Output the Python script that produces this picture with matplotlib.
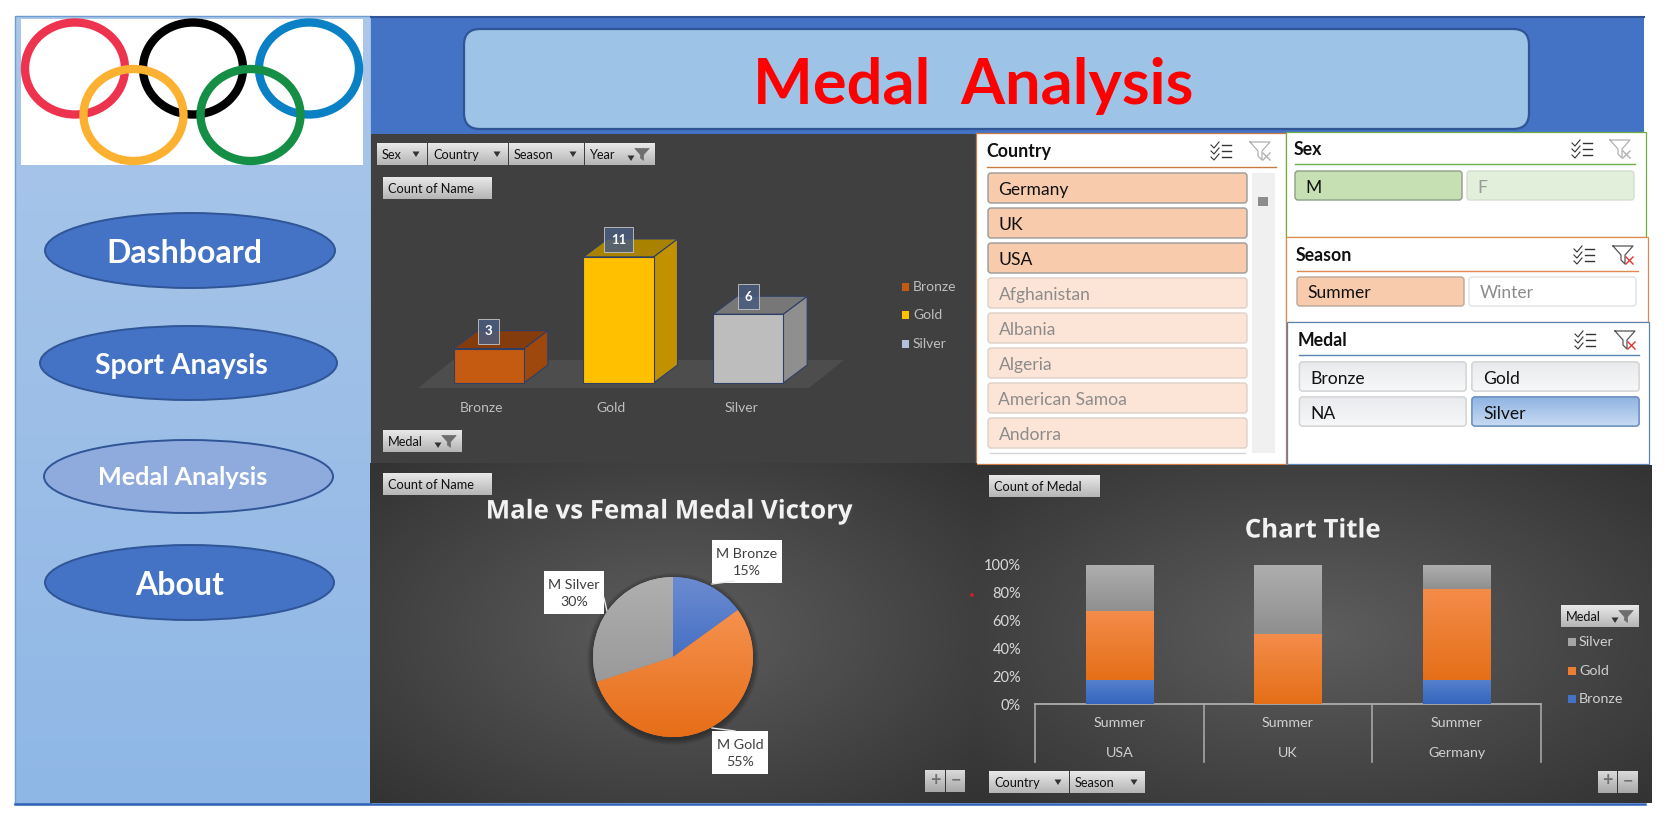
import numpy as np
import matplotlib
matplotlib.use("Agg")
import matplotlib.pyplot as plt
import matplotlib.patheffects as pe
from matplotlib.colors import LinearSegmentedColormap, to_rgb
from matplotlib.patches import Rectangle, Ellipse, Polygon, FancyBboxPatch

plt.rcParams["font.family"] = ["Lato", "DejaVu Sans"]

W, H = 1667, 823

# data
medals = ["Bronze", "Gold", "Silver"]
medal_counts = [3, 11, 6]

pie_labels = ["M Bronze", "M Gold", "M Silver"]
pie_values = [15, 55, 30]

countries = ["USA", "UK", "Germany"]
seasons = ["Summer", "Summer", "Summer"]
bronze_pct = [17, 0, 17]
gold_pct = [50, 50, 66]
silver_pct = [33, 50, 17]
pct_ticks = [0, 20, 40, 60, 80, 100]

country_items = ["Germany", "UK", "USA", "Afghanistan", "Albania", "Algeria",
                 "American Samoa", "Andorra"]
nav_items = ["Dashboard", "Sport Anaysis", "Medal Analysis", "About"]

fig = plt.figure(figsize=(W / 100, H / 100), dpi=100, facecolor="white")
canvas = fig.add_axes([0, 0, 1, 1])
canvas.set_xlim(0, W)
canvas.set_ylim(H, 0)
canvas.axis("off")
canvas.set_autoscale_on(False)


def px_axes(x0, y0, x1, y1):
    ax = fig.add_axes([x0 / W, 1 - y1 / H, (x1 - x0) / W, (y1 - y0) / H])
    ax.patch.set_alpha(0)
    return ax


def grad(ax, x0, y0, x1, y1, top, bottom, clip=None, zorder=1):
    cmap = LinearSegmentedColormap.from_list("g", [top, bottom])
    im = ax.imshow(np.linspace(0, 1, 64).reshape(-1, 1), cmap=cmap, aspect="auto",
                   extent=(x0, x1, y1, y0), origin="upper", zorder=zorder)
    if clip is not None:
        im.set_clip_path(clip)
    return im


def radial_panel(x0, y0, x1, y1):
    xx, yy = np.meshgrid(np.linspace(-1, 1, 200), np.linspace(-1, 1, 120))
    r = np.clip(np.sqrt(xx ** 2 + yy ** 2) / 1.4, 0, 1)
    c0, c1 = np.array(to_rgb("#5E5E5E")), np.array(to_rgb("#333333"))
    img = c0 + (c1 - c0) * r[..., None]
    canvas.imshow(img, aspect="auto", extent=(x0, x1, y1, y0), zorder=1)


def rrect(x0, y0, x1, y1, fc, ec, lw=1.0, r=3):
    p = FancyBboxPatch((x0, y0), x1 - x0, y1 - y0, boxstyle=f"round,pad=0,rounding_size={r}",
                       fc=fc, ec=ec, lw=lw, zorder=1)
    canvas.add_patch(p)
    return p


def funnel(x, y, color, s=1.0):
    pts = [(x - 9 * s, y - 7 * s), (x + 9 * s, y - 7 * s), (x + 2 * s, y + 1 * s),
           (x + 2 * s, y + 8 * s), (x - 2 * s, y + 5 * s), (x - 2 * s, y + 1 * s)]
    canvas.add_patch(Polygon(pts, fc=color, ec=color, lw=0.5, zorder=1))


def arrow(x, y, color="#333333"):
    canvas.add_patch(Polygon([(x - 3.5, y - 2.5), (x + 3.5, y - 2.5), (x, y + 3)], fc=color, ec="none", zorder=1))


def button(x0, y0, x1, y1, label, kind=None):
    grad(canvas, x0, y0, x1, y1, "#E9E9E9", "#B5B5B5")
    canvas.text(x0 + 5, (y0 + y1) / 2 + 1, label, fontsize=9.2, color="#111111", va="center")
    if kind == "arrow":
        arrow(x1 - 11, (y0 + y1) / 2)
    elif kind == "filter":
        funnel(x1 - 13, (y0 + y1) / 2, "#6E6E6E", 0.8)
        arrow(x1 - 24, (y0 + y1) / 2 + 4)


def slicer_icons(x_check, x_filter, y, active):
    for k in range(3):
        yy = y - 6 + k * 6
        canvas.plot([x_check - 10, x_check - 7, x_check - 2], [yy, yy + 3, yy - 3], color="#333333", lw=0.8)
        canvas.plot([x_check + 1, x_check + 10], [yy, yy], color="#333333", lw=1.0)
    fc = "#555555" if active else "#B0B0B0"
    xs = [x_filter - 10, x_filter + 10, x_filter + 2, x_filter + 2, x_filter - 2, x_filter - 2, x_filter - 10]
    ys = [y - 9, y - 9, y, y + 9, y + 5, y, y - 9]
    canvas.plot(xs, ys, color=fc, lw=0.9)
    xc = "#E03030" if active else "#B0B0B0"
    canvas.plot([x_filter + 3, x_filter + 10], [y + 2, y + 9], color=xc, lw=1.0)
    canvas.plot([x_filter + 3, x_filter + 10], [y + 9, y + 2], color=xc, lw=1.0)


def slicer(x0, y0, x1, y1, title, edge, title_x, title_y, line_y, line_x1, x_check, x_filter, active):
    canvas.add_patch(Rectangle((x0, y0), x1 - x0, y1 - y0, fc="white", ec=edge, lw=0.9, zorder=1))
    canvas.text(title_x - 1, title_y + 1, title, fontsize=12.8, fontweight="bold", color="#111111", va="center")
    canvas.plot([title_x, line_x1], [line_y, line_y], color=edge, lw=1.0)
    slicer_icons(x_check, x_filter, title_y + 1, active)


def item(x0, y0, x1, y1, label, fc, ec, tc):
    rrect(x0, y0, x1, y1, fc, ec)
    canvas.text(x0 + 10.5, (y0 + y1) / 2 + 2, label, fontsize=12.6, color=tc, va="center")


# sidebar + header
grad(canvas, 15, 16, 371, 804, "#ABC7E9", "#8FB7E6")
canvas.add_patch(Rectangle((15, 16), 356, 788, fc="none", ec="#6F9BD1", lw=1.0, zorder=1))
canvas.add_patch(Rectangle((371, 16), 1273, 118, fc="#4472C4", ec="none", zorder=1))
canvas.plot([371, 1644], [17, 17], color="#2F5597", lw=1.5)
rrect(464, 29, 1529, 129, "#9DC3E6", "#2F5597", lw=1.6, r=16)
canvas.text(973, 86, "Medal  Analysis", fontsize=45.5, fontweight="bold", color="#FF0000", ha="center", va="center")

# logo
canvas.add_patch(Rectangle((21, 19), 342, 146, fc="white", ec="none", zorder=1))
rings = [(75, 68.5, "#EE334E"), (193, 68.5, "#000000"), (309, 68.5, "#0A81C4"),
         (133.5, 115, "#FCB131"), (250.5, 115, "#158F45")]
for cx, cy, col in rings:
    canvas.add_patch(Ellipse((cx, cy), 100, 92, fc="none", ec=col, lw=6, zorder=1))

# nav buttons
nav_boxes = [(45, 213, 335, 288), (40, 326, 337, 400), (44, 440, 333, 513), (45, 545, 334, 620)]
nav_sizes = [23, 20.3, 18.2, 23]
nav_text_x = [184, 181, 183, 180]
for name, (x0, y0, x1, y1), fs, tx in zip(nav_items, nav_boxes, nav_sizes, nav_text_x):
    fc = "#8FAADC" if name == "Medal Analysis" else "#4472C4"
    canvas.add_patch(Ellipse(((x0 + x1) / 2, (y0 + y1) / 2), x1 - x0, y1 - y0, fc=fc, ec="#2F5597", lw=1.4, zorder=1))
    canvas.text(tx, (y0 + y1) / 2 + (1 if name == "Medal Analysis" else 3), name, fontsize=fs,
                fontweight="bold", color="white", ha="center", va="center")

# top chart panel
canvas.add_patch(Rectangle((371, 134), 606, 330, fc="#404040", ec="none", zorder=1))
button(377, 143, 427, 165, "Sex", "arrow")
button(428, 143, 508, 165, "Country", "arrow")
button(509, 143, 584, 165, "Season", "arrow")
button(585, 143, 655, 165, "Year", "filter")
button(383, 177, 492, 199, "Count of Name")
button(383, 430, 462, 452, "Medal", "filter")
canvas.add_patch(Polygon([(418, 388), (809, 388), (844, 360), (453, 360)], fc="#4D4D4D", ec="none", zorder=1))

ax1 = px_axes(424, 234, 813, 383)
ax1.set_xlim(-0.5, 2.5)
ax1.set_ylim(0, 13)
front = ["#C55A11", "#FFC000", "#BDBDBD"]
side = ["#9E480E", "#C29100", "#8F8F8F"]
top = ["#843C0C", "#A98300", "#777777"]
bar_w = 0.54
dx, dy = 0.185, 1.57
edge3d = "#2F3F66"
for i, v in enumerate(medal_counts):
    l, r = i - bar_w / 2, i + bar_w / 2
    ax1.add_patch(Polygon([(r, 0), (r + dx, dy), (r + dx, v + dy), (r, v)], fc=side[i], ec=edge3d, lw=0.8, clip_on=False))
    ax1.add_patch(Polygon([(l, v), (r, v), (r + dx, v + dy), (l + dx, v + dy)], fc=top[i], ec=edge3d, lw=0.8, clip_on=False))
ax1.bar(range(3), medal_counts, width=bar_w, color=front, edgecolor=edge3d, linewidth=0.8, clip_on=False)
for i, v in enumerate(medal_counts):
    ax1.annotate(str(v), (i, v), xytext=(0, 12.5), textcoords="offset points", ha="center", va="center",
                 color="white", fontsize=9.5, fontweight="bold",
                 bbox=dict(boxstyle="square,pad=0.5", fc="#4A5D7E", ec="#C8C8C8", lw=0.7, alpha=0.85),
                 annotation_clip=False)
ax1.set_xticks([i - 0.055 for i in range(3)])
ax1.set_xticklabels(medals, color="#BFBFBF", fontsize=10)
ax1.set_yticks([])
ax1.tick_params(axis="x", length=0, pad=13.5)
for s in ax1.spines.values():
    s.set_visible(False)

for name, col, y in zip(medals, ["#C55A11", "#FFC000", "#B4C0D8"], [287, 315, 344]):
    canvas.add_patch(Rectangle((902, y - 4), 7, 8, fc=col, ec="none", zorder=1))
    canvas.text(913, y, name, fontsize=10, color="#BFBFBF", va="center")

# slicers
slicer(976, 133, 1286, 464, "Country", "#C97A45", 987, 150, 166.7, 1276, 1221, 1260, False)
for k, name in enumerate(country_items):
    y0 = 173 + 35 * k
    if k < 3:
        item(988, y0, 1247, y0 + 30, name, "#F8CBAD", "#9A9A9A", "#111111")
    else:
        item(988, y0, 1247, y0 + 30, name, "#FCE4D6", "#DDD0C8", "#8C8C8C")
canvas.plot([990, 1245], [453, 453], color="#D5D5D5", lw=1.0)
canvas.add_patch(Rectangle((1252, 173), 23, 280, fc="#F0F0F0", ec="none", zorder=1))
canvas.add_patch(Rectangle((1258, 197), 10, 9, fc="#8C8C8C", ec="none", zorder=1))

slicer(1286, 132, 1646, 237, "Sex", "#70AD47", 1295, 148, 164, 1635, 1582, 1620, False)
item(1295, 171, 1462, 200, "M", "#C6E0B4", "#8E9E86", "#111111")
item(1467, 171, 1634, 200, "F", "#E2EFDA", "#D5DDD0", "#9A9A9A")

slicer(1286, 237, 1648, 322, "Season", "#E08A4F", 1297, 254, 271, 1638, 1584, 1623, True)
item(1297, 277, 1464, 306, "Summer", "#F8CBAD", "#B9A79A", "#111111")
item(1469, 277, 1636, 306, "Winter", "#FFFFFF", "#E2E2E2", "#8C8C8C")

slicer(1287, 322, 1649, 464, "Medal", "#5B84B1", 1299, 339, 355, 1639, 1585, 1625, True)
medal_boxes = [(1299.5, 362, 1466, 391), (1472, 362, 1639, 391), (1299.5, 397, 1466, 426), (1472, 397, 1639, 426)]
for name, (x0, y0, x1, y1) in zip(["Bronze", "Gold", "NA", "Silver"], medal_boxes):
    on = name == "Silver"
    p = rrect(x0, y0, x1, y1, "none", "#6C8EBF" if on else "#D5D5D5")
    grad(canvas, x0, y0, x1, y1, "#8FB4E3" if on else "#E8EAED", "#C8DAF2" if on else "#F7F8F9", clip=p)
    rrect(x0, y0, x1, y1, "none", "#6C8EBF" if on else "#D5D5D5")
    canvas.text(x0 + 11, (y0 + y1) / 2 + 2, name, fontsize=12.6, color="#111111", va="center")

# pie panel
radial_panel(370, 463, 977, 803)
button(383, 473, 492, 495, "Count of Name")
canvas.text(670, 511, "Male vs Femal Medal Victory", family="Open Sans", fontsize=18.6, fontweight="bold",
            color="#F2F2F2", ha="center", va="center",
            path_effects=[pe.withSimplePatchShadow(offset=(1.5, -1.5), alpha=0.6)])
for k in range(6):
    canvas.add_patch(Ellipse((673, 659), 160 + 2 * (6 - k), 160 + 2 * (6 - k), fc="black", ec="none", alpha=0.06, zorder=1))

ax2 = px_axes(593, 577, 753, 737)
wedges, _ = ax2.pie(pie_values, startangle=90, counterclock=False, radius=1,
                    colors=["#4472C4", "#ED7D31", "#A5A5A5"])
ax2.set_xlim(-1, 1)
ax2.set_ylim(-1, 1)
ax2.set_autoscale_on(False)
pie_grads = [("#6B8BD0", "#1F55B8"), ("#F99A5C", "#E66E18"), ("#AFAFAF", "#8E8E8E")]
for w, (c0, c1) in zip(wedges, pie_grads):
    grad(ax2, -1, 1, 1, -1, c0, c1, clip=w)

label_boxes = [(712, 540, 782, 583), (712, 731, 768, 774), (544, 571, 604, 614)]
leaders = [([712, 734], [584, 581]), ([712, 735], [728, 731]), ([604, 607], [598, 611])]
for name, v, (x0, y0, x1, y1), (lx, ly) in zip(pie_labels, pie_values, label_boxes, leaders):
    canvas.add_patch(Rectangle((x0, y0), x1 - x0, y1 - y0, fc="white", ec="none", zorder=1))
    canvas.plot(lx, ly, color="#E8E8E8", lw=1.0)
    canvas.text((x0 + x1) / 2, (y0 + y1) / 2 + 1, f"{name}\n{v}%", fontsize=10.3, color="#404040",
                ha="center", va="center", linespacing=1.5)

grad(canvas, 925, 770, 945, 792, "#DADADA", "#A8A8A8")
grad(canvas, 946, 770, 965, 792, "#DADADA", "#A8A8A8")
canvas.text(935, 780, "+", fontsize=13, fontweight="bold", color="#707070", ha="center", va="center")
canvas.text(955.5, 780, "\u2212", fontsize=13, fontweight="bold", color="#707070", ha="center", va="center")

# stacked bar panel
radial_panel(977, 465, 1652, 803)
button(989, 475, 1100, 497, "Count of Medal")
canvas.text(1313, 530, "Chart Title", family="Open Sans", fontsize=18.6, fontweight="bold", color="#F2F2F2",
            ha="center", va="center", path_effects=[pe.withSimplePatchShadow(offset=(1.5, -1.5), alpha=0.6)])
button(989, 771, 1069, 793, "Country", "arrow")
button(1070, 771, 1145, 793, "Season", "arrow")
button(1561, 605, 1639, 627, "Medal", "filter")
grad(canvas, 1598, 771, 1617, 793, "#DADADA", "#A8A8A8")
grad(canvas, 1618, 771, 1638, 793, "#DADADA", "#A8A8A8")
canvas.text(1607.5, 781, "+", fontsize=13, fontweight="bold", color="#707070", ha="center", va="center")
canvas.text(1628, 781, "\u2212", fontsize=13, fontweight="bold", color="#707070", ha="center", va="center")

ax3 = px_axes(1035, 565, 1541, 704)
ax3.set_xlim(-0.5, 2.5)
ax3.set_ylim(0, 100)
ax3.set_autoscale_on(False)
x3 = np.arange(3)
b_bars = ax3.bar(x3, bronze_pct, width=0.4, color="#4472C4")
g_bars = ax3.bar(x3, gold_pct, width=0.4, bottom=bronze_pct, color="#ED7D31")
s_bars = ax3.bar(x3, silver_pct, width=0.4, bottom=np.add(bronze_pct, gold_pct), color="#A5A5A5")
for bars, c0, c1 in [(b_bars, "#5580CC", "#3565BF"), (g_bars, "#F48C4A", "#E56F18"), (s_bars, "#AEAEAE", "#8F8F8F")]:
    for b in bars:
        if b.get_height() > 0:
            yb, yt = b.get_y(), b.get_y() + b.get_height()
            grad(ax3, b.get_x(), yt, b.get_x() + b.get_width(), yb, c0, c1, zorder=3)
ax3.set_yticks(pct_ticks)
ax3.set_yticklabels([f"{t}%" for t in pct_ticks], color="#D9D9D9", fontsize=10.5)
ax3.set_xticks([])
ax3.tick_params(axis="y", length=0, pad=10)
for s in ax3.spines.values():
    s.set_visible(False)
for i, (season, country) in enumerate(zip(seasons, countries)):
    ax3.annotate(season, (i, 0), xytext=(0, -14), textcoords="offset points", ha="center", va="center",
                 color="#CFCFCF", fontsize=10.3, annotation_clip=False)
    ax3.annotate(country, (i, 0), xytext=(0, -35.5), textcoords="offset points", ha="center", va="center",
                 color="#CFCFCF", fontsize=10.3, annotation_clip=False)
canvas.plot([1035, 1541], [704, 704], color="#A6A6A6", lw=1.4)
for xl in [1035, 1204, 1372, 1541]:
    canvas.plot([xl, xl], [704, 762], color="#A6A6A6", lw=1.2)

for name, col, y in zip(["Silver", "Gold", "Bronze"], ["#A5A5A5", "#ED7D31", "#4472C4"], [642, 671, 699]):
    canvas.add_patch(Rectangle((1568, y - 4), 8, 8, fc=col, ec="none", zorder=1))
    canvas.text(1579, y, name, fontsize=10.3, color="#CFCFCF", va="center")

# small details
canvas.add_patch(Ellipse((972, 595), 3.5, 4, fc="#D02020", ec="none", zorder=1))
canvas.plot([15, 1645], [804, 804], color="#2F63B5", lw=1.8)

fig.savefig("out.png", dpi=100)
